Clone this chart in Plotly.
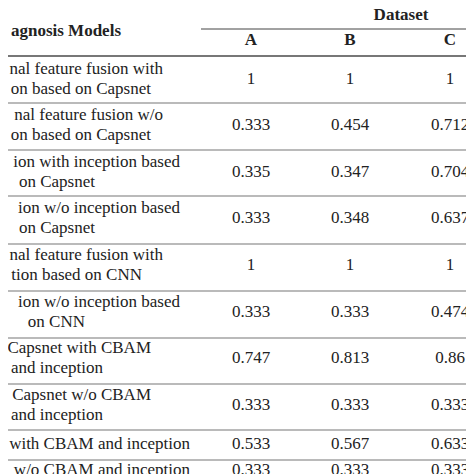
import plotly.graph_objects as go

# table contents as visible in the (left-cropped) reference
label_lines = [
    ["nal feature fusion with", "on based on Capsnet"],
    ["nal feature fusion w/o", "on based on Capsnet"],
    ["ion with inception based", "on Capsnet"],
    ["ion w/o inception based", "on Capsnet"],
    ["nal feature fusion with", "tion based on CNN"],
    ["ion w/o inception based", "on CNN"],
    ["Capsnet with CBAM", "and inception"],
    ["Capsnet w/o CBAM", "and inception"],
    ["with CBAM and inception"],
    ["w/o CBAM and inception"],
]
datasets = ["A", "B", "C"]
val_a = ["1", "0.333", "0.335", "0.333", "1", "0.333", "0.747", "0.333", "0.533", "0.333"]
val_b = ["1", "0.454", "0.347", "0.348", "1", "0.333", "0.813", "0.333", "0.567", "0.333"]
val_c = ["1", "0.712", "0.704", "0.637", "1", "0.474", "0.86", "0.333", "0.633", "0.333"]

# layout in pixel space of the 474x474 picture
row_y = [72, 118, 165, 211, 258, 305, 351, 398, 437, 463]
line_ends = [(155, 143), (155, 143), (172, 87), (172, 87), (155, 134),
             (172, 77), (143, 95), (143, 95), (182,), (182,)]
col_x = [243, 342, 442]
rules = [48, 95, 142, 188, 236, 283, 330, 376, 422, 452]

font = dict(family="Liberation Serif", size=17, color="#222")
fig = go.Figure()

lx, ly, lt = [], [], []
for lines, ends, y in zip(label_lines, line_ends, row_y):
    offs = [-10, 10] if len(lines) == 2 else [0]
    for t, e, o in zip(lines, ends, offs):
        lx.append(e); ly.append(y + o); lt.append(t)
fig.add_trace(go.Scatter(x=lx, y=ly, text=lt, mode="text", textposition="middle left",
                         textfont=font, cliponaxis=False, hoverinfo="skip"))

for cx, vals in zip(col_x, [val_a, val_b, val_c]):
    fig.add_trace(go.Scatter(x=[cx] * len(vals), y=row_y, text=vals, mode="text",
                             textfont=font, cliponaxis=False, hoverinfo="skip"))

bold = dict(family="Liberation Serif", size=17, color="#222", weight="bold")
fig.add_trace(go.Scatter(x=col_x, y=[33] * 3, text=datasets, mode="text",
                         textfont=bold, hoverinfo="skip"))
fig.add_trace(go.Scatter(x=[393, 113], y=[8, 24], text=["Dataset", "agnosis Models"],
                         mode="text", textposition=["middle center", "middle left"],
                         textfont=bold, cliponaxis=False, hoverinfo="skip"))

fig.add_shape(type="line", x0=193, x1=474, y0=21, y1=21, line=dict(color="#444", width=1))
for i, y in enumerate(rules):
    w = 2 if i == 0 else 1.2
    fig.add_shape(type="line", x0=0, x1=474, y0=y, y1=y, line=dict(color="#777", width=w))

fig.update_layout(width=474, height=474, margin=dict(l=0, r=0, t=0, b=0),
                  paper_bgcolor="white", plot_bgcolor="white", showlegend=False,
                  xaxis=dict(range=[0, 474], visible=False, fixedrange=True),
                  yaxis=dict(range=[474, 0], visible=False, fixedrange=True))
fig.write_html("out.html")
